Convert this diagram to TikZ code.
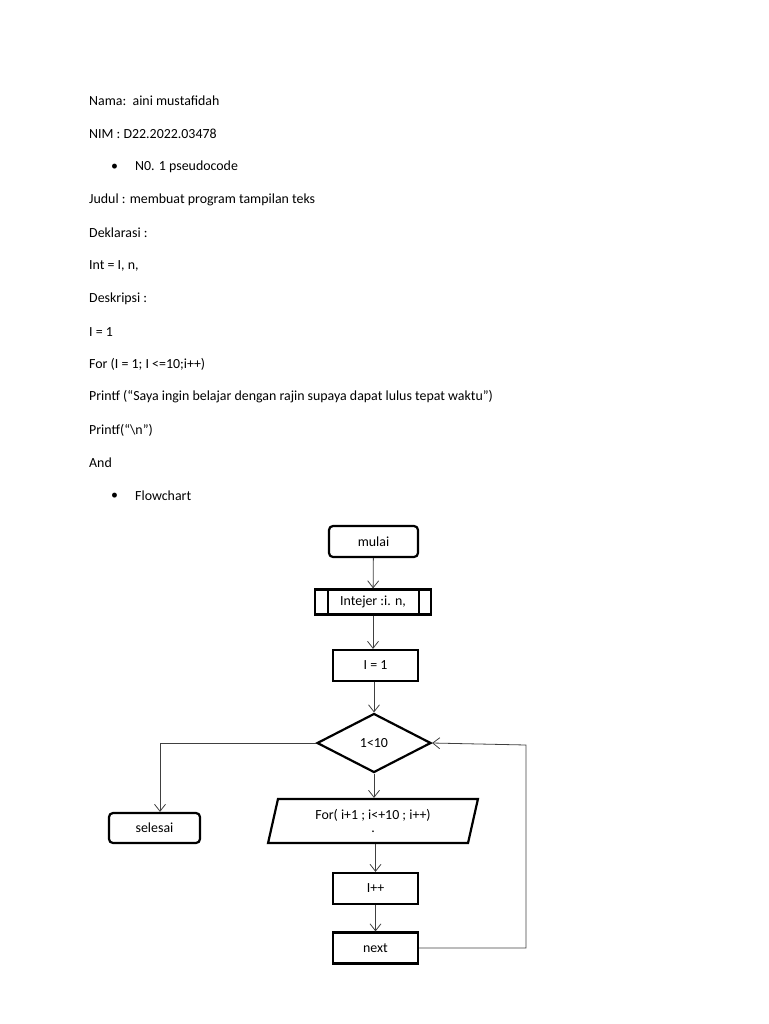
\documentclass[tikz,border=0pt]{standalone}
\usepackage{fontspec}
\setmainfont{Carlito}
\usetikzlibrary{positioning,calc,shapes.geometric,arrows.meta}

\begin{document}
\begin{tikzpicture}[
    x=1pt,y=-1pt,
    line/.style={anchor=west,inner sep=0pt,font=\fontsize{13.9}{16}\selectfont},
    terminal/.style={rectangle,rounded corners=4pt,draw,line width=2.2pt,
      minimum width=89pt,minimum height=31pt,font=\fontsize{13.9}{16}\selectfont},
    process/.style={rectangle,draw,line width=2.2pt,
      minimum width=85pt,minimum height=31pt,font=\fontsize{13.9}{16}\selectfont},
    subproc/.style={rectangle,draw,line width=2.2pt,
      minimum width=116pt,minimum height=25pt,font=\fontsize{13.9}{16}\selectfont},
    decision/.style={diamond,draw,line width=2.2pt,aspect=1.95,
      minimum width=114pt,minimum height=59pt,inner sep=0pt,font=\fontsize{13.9}{16}\selectfont},
    io/.style={trapezium,trapezium left angle=78,trapezium right angle=102,
      trapezium stretches=true,draw,line width=2.2pt,minimum width=210pt,minimum height=44pt,
      align=center,font=\fontsize{13.9}{16}\selectfont},
    flow/.style={-{Straight Barb[length=7pt,width=11pt]},line width=0.8pt,black!75}
  ]
    \useasboundingbox (0,0) rectangle (768,1024);
    % Header and pseudocode
    \node[line] (nama) at (89,101) {Nama:\ \ aini mustafidah};
    \node[line] (nim) at (89,134) {NIM : D22.2022.03478};
    \node[line] (bul1) at (111,167) {\textbullet};
    \node[line] (item1) at (135,167) {N0. 1 pseudocode};
    \node[line] (judul) at (89,200) {Judul : membuat program tampilan teks};
    \node[line] (dekl) at (89,233) {Deklarasi :};
    \node[line] (int) at (89,266) {Int = I, n,};
    \node[line] (desk) at (89,299) {Deskripsi :};
    \node[line] (init) at (89,332) {I = 1};
    \node[line] (for) at (89,364) {For (I = 1; I <=10;i++)};
    \node[line] (pr1) at (89,397) {Printf (“Saya ingin belajar dengan rajin supaya dapat lulus tepat waktu”)};
    \node[line] (pr2) at (89,430) {Printf(“\textbackslash n”)};
    \node[line] (and) at (89,463) {And};
    \node[line] (bul2) at (111,496) {\textbullet};
    \node[line] (item2) at (135,496) {Flowchart};
    % Flowchart
    \node[terminal] (mulai) at (373.5,541.5) {mulai};
    \node[subproc] (decl) at (373,602) {Intejer :i. n,};
    \draw[line width=2.2pt] ([xshift=14pt]decl.north west) -- ([xshift=14pt]decl.south west);
    \draw[line width=2.2pt] ([xshift=-13pt]decl.north east) -- ([xshift=-13pt]decl.south east);
    \node[process] (set) at (375.5,665.5) {I = 1};
    \node[decision] (cond) at (374,743) {1<10};
    \node[io] (loop) at (373,821) {For( i+1 ; i<+10 ; i++)\\[-3pt].};
    \node[process] (inc) at (375.5,888.5) {I++};
    \node[process] (next) at (375.5,948) {next};
    \node[terminal,minimum width=91pt,minimum height=30pt] (selesai) at (154.5,828) {selesai};
    \coordinate (back) at (526,745);
    % Connectors
    \draw[flow] (mulai) -- (decl);
    \draw[flow] (decl) -- (set.north -| decl);
    \draw[flow] (set.south -| cond) -- (cond);
    \draw[flow] (cond) -- (loop.north -| cond);
    \draw[flow] (loop.south -| inc) -- (inc);
    \draw[flow] (inc) -- (next);
    \draw[flow] (cond.west) -| (selesai.north -| 160,0);
    \draw[flow] (next.east) -| (back) -- (cond.east);
  \end{tikzpicture}
\end{document}
